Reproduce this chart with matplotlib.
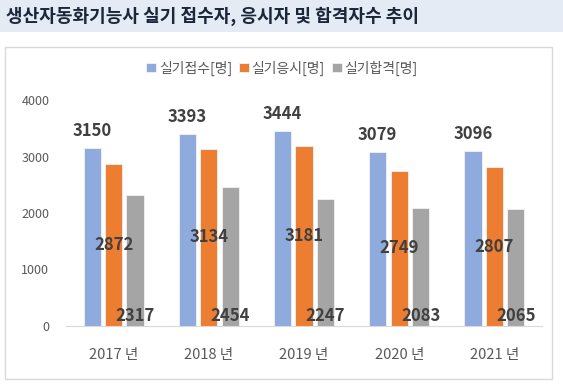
import numpy as np
import matplotlib
matplotlib.use("Agg")
import matplotlib.pyplot as plt
from matplotlib.patches import Rectangle

plt.rcParams['font.family'] = ['Noto Sans CJK KR', 'DejaVu Sans']

years = ['2017 년', '2018 년', '2019 년', '2020 년', '2021 년']
applied = [3150, 3393, 3444, 3079, 3096]
examined = [2872, 3134, 3181, 2749, 2807]
passed = [2317, 2454, 2247, 2083, 2065]
series_names = ['실기접수[명]', '실기응시[명]', '실기합격[명]']
colors = ['#8FAADC', '#ED7D31', '#A5A5A5']

W, H = 563, 391
fig = plt.figure(figsize=(W / 100, H / 100), dpi=100)

# title band
fig.patches.append(Rectangle((0, 1 - 32 / H), 1, 32 / H, transform=fig.transFigure,
                             facecolor='#E4EBF5', edgecolor='none', zorder=-2))
fig.text(6 / W, 1 - 16 / H, '생산자동화기능사 실기 접수자, 응시자 및 합격자수 추이',
         fontsize=13, fontweight='bold', color='#1B2638', va='center', ha='left')

# chart frame
fig.patches.append(Rectangle((5 / W, (H - 379) / H), 547 / W, 332 / H,
                             transform=fig.transFigure, facecolor='white',
                             edgecolor='#D9D9D9', linewidth=1, zorder=-2))

ax = fig.add_axes([66 / W, (H - 326) / H, 476 / W, 226 / H])
ax.set_facecolor('none')
ax.set_zorder(2)

x = np.arange(len(years))
w = 0.18
gap = 0.225
for i, (vals, c) in enumerate(zip([applied, examined, passed], colors)):
    ax.bar(x + (i - 1) * gap, vals, width=w, color=c, edgecolor='#F2F2F2',
           linewidth=0.6, label=series_names[i], zorder=2)

lab = dict(fontsize=12, fontweight='bold', color='#404040', ha='center', zorder=3)
for xi, a, e, p in zip(x, applied, examined, passed):
    ax.text(xi - gap, a + 150, str(a), va='bottom', **lab)
    ax.text(xi, e / 2, str(e), va='center', **lab)
    ax.text(xi + gap, 20, str(p), va='bottom', **lab)

ax.set_xlim(-0.5, len(years) - 0.5)
ax.set_ylim(0, 4000)
ax.set_yticks([0, 1000, 2000, 3000, 4000])
ax.set_xticks(x)
ax.set_xticklabels(years)
for s in ['top', 'right', 'left']:
    ax.spines[s].set_visible(False)
ax.spines['bottom'].set_color('#D9D9D9')
ax.tick_params(axis='y', length=0, pad=12, labelsize=9, labelcolor='#595959')
ax.tick_params(axis='x', length=0, pad=16, labelsize=10.5, labelcolor='#595959')

fig.legend(loc='center', bbox_to_anchor=(282 / W, 1 - 68 / H), ncol=3,
           frameon=False, fontsize=10, handlelength=0.7, handleheight=0.7,
           handletextpad=0.2, columnspacing=0.5, labelcolor='#595959')

fig.savefig('out.png', dpi=100)
